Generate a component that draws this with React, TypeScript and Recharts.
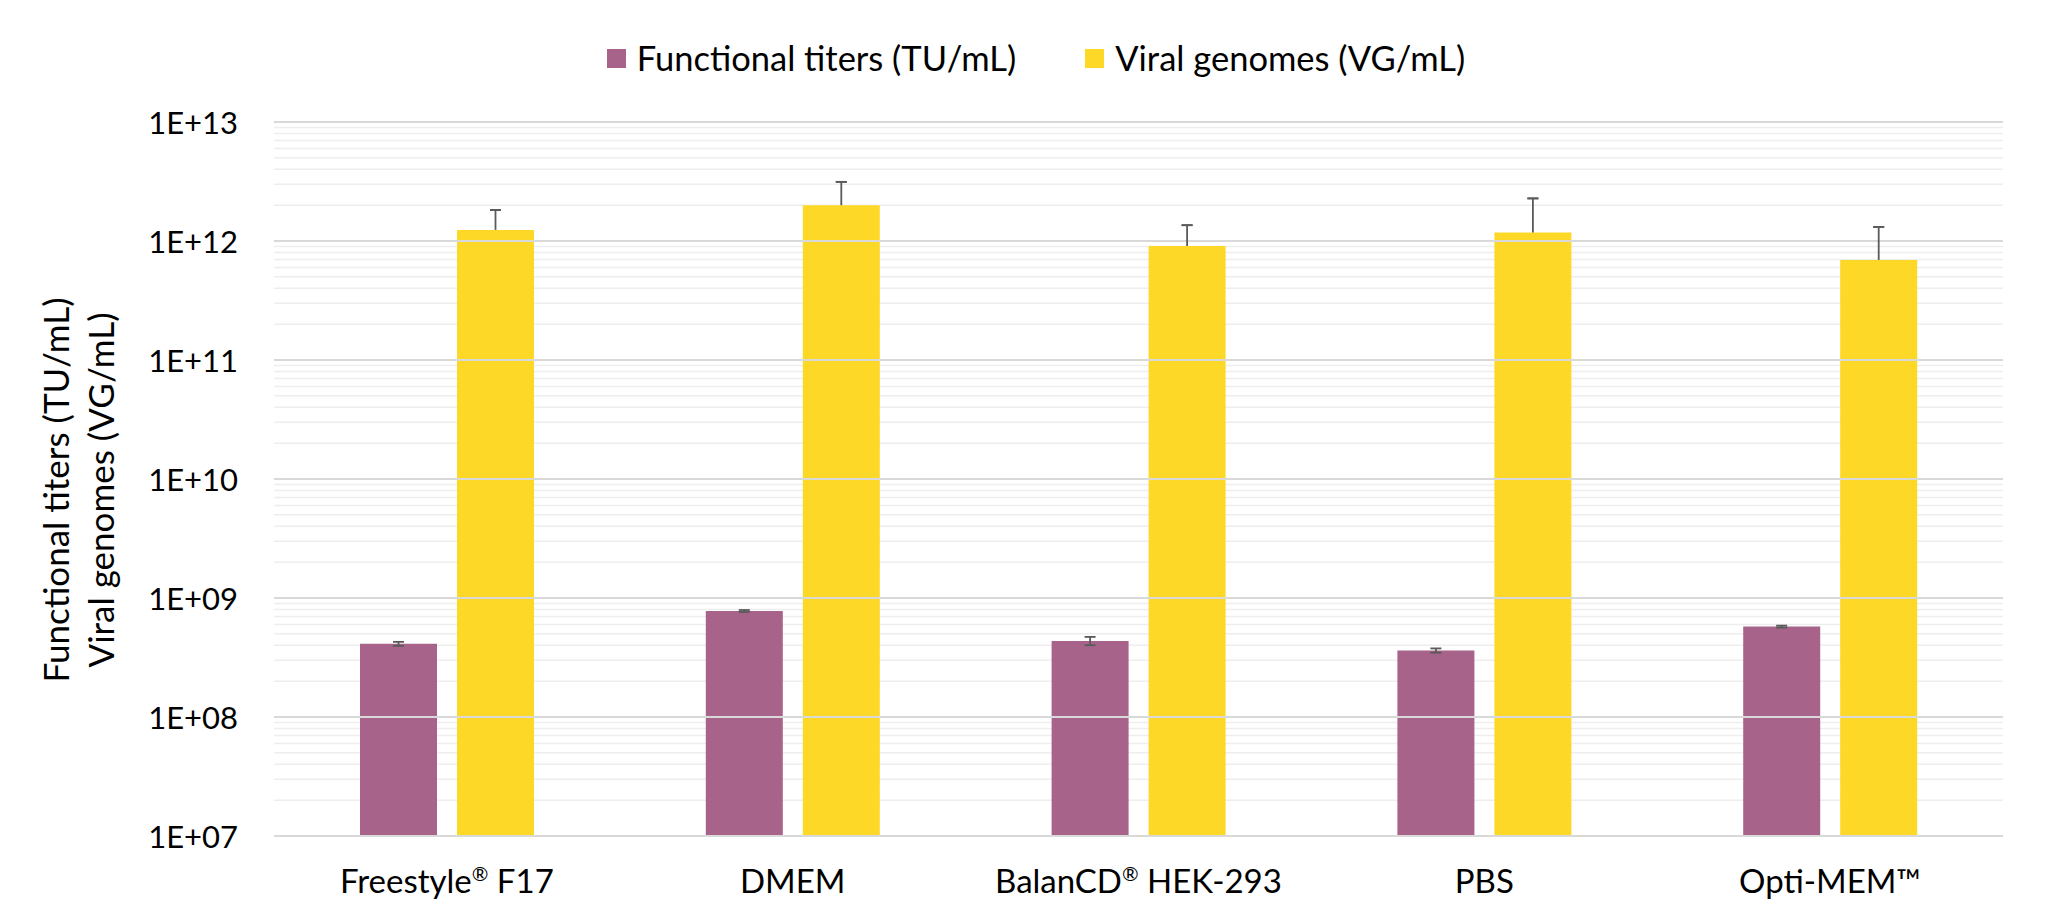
import React from "react";
import {
  BarChart,
  Bar,
  XAxis,
  YAxis,
  CartesianGrid,
  ErrorBar,
  ReferenceLine,
  Label,
} from "recharts";

// values (log scale, 1E+07 .. 1E+13)
const MEDIA = ["Freestyle® F17", "DMEM", "BalanCD® HEK-293", "PBS", "Opti-MEM™"];
const TU_TITERS = [4.12e8, 7.78e8, 4.36e8, 3.62e8, 5.75e8];
const TU_ERR = [1.6e7, 1.5e7, 3.5e7, 1.5e7, 1.1e7];
const VG_TITERS = [1.24e12, 2.0e12, 9.08e11, 1.18e12, 6.93e11];
const VG_ERR_UP = [5.8e11, 1.14e12, 4.5e11, 1.1e12, 6.2e11];

const DECADE_TICKS = [1e7, 1e8, 1e9, 1e10, 1e11, 1e12, 1e13];
const MINOR_STEPS = [2, 3, 4, 5, 6, 7, 8, 9];

const MINOR_TICKS = DECADE_TICKS.slice(0, -1).flatMap((d) => MINOR_STEPS.map((m) => m * d));
const ALL_TICKS = [...DECADE_TICKS, ...MINOR_TICKS].sort((a, b) => a - b);

const data = MEDIA.map((medium, i) => ({
  medium,
  tu: TU_TITERS[i],
  tuErr: TU_ERR[i],
  vg: VG_TITERS[i],
  // plus-only whisker, and a zero-length pair so only the top cap is drawn
  vgWhisker: [0, VG_ERR_UP[i]],
  vgCap: [-VG_ERR_UP[i], VG_ERR_UP[i]],
}));

const COLORS = {
  tu: "#A8638A",
  vg: "#FDD826",
  err: "#5a5a5a",
  major: "#d9d9d9",
  minor: "#eeeeee",
  text: "#000000",
};

const FONT = "Lato, 'Open Sans', sans-serif";

if (typeof document !== "undefined") document.body.style.margin = "0";

const isDecade = (v: number) => DECADE_TICKS.some((d) => Math.abs(d - v) / d < 1e-6);
const fmtExp = (v: number) => {
  const e = Math.round(Math.log10(v));
  return `1E+${String(e).padStart(2, "0")}`;
};

function YTick(props: any) {
  const { x, y, payload } = props;
  if (!isDecade(payload.value)) return null;
  return (
    <text
      x={x}
      y={y}
      textAnchor="end"
      dominantBaseline="central"
      fontFamily={FONT}
      fontSize={31}
      fill={COLORS.text}
    >
      {fmtExp(payload.value)}
    </text>
  );
}

// ® is set as a superscript, like in the original
function XTick(props: any) {
  const { x, y, payload } = props;
  const parts = String(payload.value).split("®");
  return (
    <text
      x={x}
      y={y}
      dy="0.71em"
      textAnchor="middle"
      fontFamily={FONT}
      fontSize={33}
      fill={COLORS.text}
    >
      {parts.length === 1 ? (
        parts[0]
      ) : (
        <>
          <tspan>{parts[0]}</tspan>
          <tspan fontSize={20} dy={-12}>®</tspan>
          <tspan dy={12}>{parts[1]}</tspan>
        </>
      )}
    </text>
  );
}

function AxisTitle() {
  return (
    <g fontFamily={FONT} fontSize={35} fill={COLORS.text}>
      <text x={55} y={490} transform="rotate(-90, 55, 490)" textAnchor="middle" dominantBaseline="central">
        Functional titers (TU/mL)
      </text>
      <text x={100} y={490} transform="rotate(-90, 100, 490)" textAnchor="middle" dominantBaseline="central">
        Viral genomes (VG/mL)
      </text>
    </g>
  );
}

function LegendRow() {
  const items = [
    { label: "Functional titers (TU/mL)", color: COLORS.tu },
    { label: "Viral genomes (VG/mL)", color: COLORS.vg },
  ];
  return (
    <div
      style={{
        position: "absolute",
        top: 37,
        left: 12,
        width: 2048,
        display: "flex",
        justifyContent: "center",
        gap: 69,
        fontFamily: FONT,
        fontSize: 34.5,
        color: COLORS.text,
        lineHeight: "42px",
      }}
    >
      {items.map((it) => (
        <span key={it.label} style={{ display: "flex", alignItems: "center", gap: 11 }}>
          <span style={{ width: 19, height: 19, background: it.color, display: "inline-block" }} />
          {it.label}
        </span>
      ))}
    </div>
  );
}

export default function App() {
  return (
    <div style={{ position: "relative", width: 2048, height: 918, background: "#fff", overflow: "hidden" }}>
      <LegendRow />
      <BarChart
        width={2048}
        height={918}
        data={data}
        margin={{ top: 122, right: 45, left: 164, bottom: 22 }}
        barGap={20}
        barSize={77}
      >
        <CartesianGrid vertical={false} stroke={COLORS.minor} strokeWidth={1.5} />
        {DECADE_TICKS.slice(1).map((d) => (
          <ReferenceLine key={d} y={d} stroke={COLORS.major} strokeWidth={2} />
        ))}
        <XAxis
          dataKey="medium"
          tickLine={false}
          axisLine={{ stroke: COLORS.major, strokeWidth: 2 }}
          tickSize={0}
          tickMargin={34}
          height={60}
          interval={0}
          tick={<XTick />}
        />
        <YAxis
          scale="log"
          type="number"
          domain={[1e7, 1e13]}
          allowDataOverflow
          ticks={ALL_TICKS}
          interval={0}
          width={110}
          axisLine={false}
          tickLine={false}
          tickSize={0}
          tickMargin={36}
          tick={<YTick />}
        >
          <Label content={() => <AxisTitle />} />
        </YAxis>
        <Bar dataKey="tu" name="Functional titers (TU/mL)" fill={COLORS.tu} isAnimationActive={false}>
          <ErrorBar dataKey="tuErr" width={5.5} stroke={COLORS.err} strokeWidth={1.8} />
        </Bar>
        <Bar dataKey="vg" name="Viral genomes (VG/mL)" fill={COLORS.vg} isAnimationActive={false}>
          <ErrorBar dataKey="vgWhisker" width={0} stroke={COLORS.err} strokeWidth={1.8} />
          <ErrorBar dataKey="vgCap" width={5.5} stroke={COLORS.err} strokeWidth={1.8} />
        </Bar>
      </BarChart>
    </div>
  );
}
